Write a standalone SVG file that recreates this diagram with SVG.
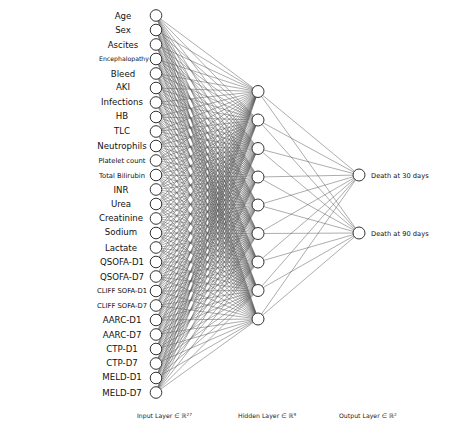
<svg xmlns="http://www.w3.org/2000/svg" width="474" height="432" viewBox="0 0 474 432">
<style>
.bg{fill:#fff}
.edges path{stroke:#5a5a5a;stroke-width:0.5;fill:none}
.node circle{fill:#fff;stroke:#333;stroke-width:1}
.lbl{font-family:"DejaVu Sans",sans-serif;font-size:8.6px;fill:#111;text-anchor:middle}
.sm{font-size:6.8px}
.xs{font-size:6.2px}
.out{font-family:"DejaVu Sans",sans-serif;font-size:6.7px;fill:#111}
.ax{font-family:"DejaVu Sans",sans-serif;font-size:6.2px;fill:#222}
</style>
<rect class="bg" width="474" height="432"/>
<g id="connectors" class="edges">
<path d="M156 15.5L258 91.5"/><path d="M156 15.5L258 120"/><path d="M156 15.5L258 148.5"/><path d="M156 15.5L258 177"/><path d="M156 15.5L258 205"/><path d="M156 15.5L258 233.5"/><path d="M156 15.5L258 262"/><path d="M156 15.5L258 290.5"/><path d="M156 15.5L258 319"/>
<path d="M156 30L258 91.5"/><path d="M156 30L258 120"/><path d="M156 30L258 148.5"/><path d="M156 30L258 177"/><path d="M156 30L258 205"/><path d="M156 30L258 233.5"/><path d="M156 30L258 262"/><path d="M156 30L258 290.5"/><path d="M156 30L258 319"/>
<path d="M156 44.5L258 91.5"/><path d="M156 44.5L258 120"/><path d="M156 44.5L258 148.5"/><path d="M156 44.5L258 177"/><path d="M156 44.5L258 205"/><path d="M156 44.5L258 233.5"/><path d="M156 44.5L258 262"/><path d="M156 44.5L258 290.5"/><path d="M156 44.5L258 319"/>
<path d="M156 59L258 91.5"/><path d="M156 59L258 120"/><path d="M156 59L258 148.5"/><path d="M156 59L258 177"/><path d="M156 59L258 205"/><path d="M156 59L258 233.5"/><path d="M156 59L258 262"/><path d="M156 59L258 290.5"/><path d="M156 59L258 319"/>
<path d="M156 73.5L258 91.5"/><path d="M156 73.5L258 120"/><path d="M156 73.5L258 148.5"/><path d="M156 73.5L258 177"/><path d="M156 73.5L258 205"/><path d="M156 73.5L258 233.5"/><path d="M156 73.5L258 262"/><path d="M156 73.5L258 290.5"/><path d="M156 73.5L258 319"/>
<path d="M156 88L258 91.5"/><path d="M156 88L258 120"/><path d="M156 88L258 148.5"/><path d="M156 88L258 177"/><path d="M156 88L258 205"/><path d="M156 88L258 233.5"/><path d="M156 88L258 262"/><path d="M156 88L258 290.5"/><path d="M156 88L258 319"/>
<path d="M156 102.5L258 91.5"/><path d="M156 102.5L258 120"/><path d="M156 102.5L258 148.5"/><path d="M156 102.5L258 177"/><path d="M156 102.5L258 205"/><path d="M156 102.5L258 233.5"/><path d="M156 102.5L258 262"/><path d="M156 102.5L258 290.5"/><path d="M156 102.5L258 319"/>
<path d="M156 117L258 91.5"/><path d="M156 117L258 120"/><path d="M156 117L258 148.5"/><path d="M156 117L258 177"/><path d="M156 117L258 205"/><path d="M156 117L258 233.5"/><path d="M156 117L258 262"/><path d="M156 117L258 290.5"/><path d="M156 117L258 319"/>
<path d="M156 131.5L258 91.5"/><path d="M156 131.5L258 120"/><path d="M156 131.5L258 148.5"/><path d="M156 131.5L258 177"/><path d="M156 131.5L258 205"/><path d="M156 131.5L258 233.5"/><path d="M156 131.5L258 262"/><path d="M156 131.5L258 290.5"/><path d="M156 131.5L258 319"/>
<path d="M156 146L258 91.5"/><path d="M156 146L258 120"/><path d="M156 146L258 148.5"/><path d="M156 146L258 177"/><path d="M156 146L258 205"/><path d="M156 146L258 233.5"/><path d="M156 146L258 262"/><path d="M156 146L258 290.5"/><path d="M156 146L258 319"/>
<path d="M156 160.5L258 91.5"/><path d="M156 160.5L258 120"/><path d="M156 160.5L258 148.5"/><path d="M156 160.5L258 177"/><path d="M156 160.5L258 205"/><path d="M156 160.5L258 233.5"/><path d="M156 160.5L258 262"/><path d="M156 160.5L258 290.5"/><path d="M156 160.5L258 319"/>
<path d="M156 175L258 91.5"/><path d="M156 175L258 120"/><path d="M156 175L258 148.5"/><path d="M156 175L258 177"/><path d="M156 175L258 205"/><path d="M156 175L258 233.5"/><path d="M156 175L258 262"/><path d="M156 175L258 290.5"/><path d="M156 175L258 319"/>
<path d="M156 189.5L258 91.5"/><path d="M156 189.5L258 120"/><path d="M156 189.5L258 148.5"/><path d="M156 189.5L258 177"/><path d="M156 189.5L258 205"/><path d="M156 189.5L258 233.5"/><path d="M156 189.5L258 262"/><path d="M156 189.5L258 290.5"/><path d="M156 189.5L258 319"/>
<path d="M156 204L258 91.5"/><path d="M156 204L258 120"/><path d="M156 204L258 148.5"/><path d="M156 204L258 177"/><path d="M156 204L258 205"/><path d="M156 204L258 233.5"/><path d="M156 204L258 262"/><path d="M156 204L258 290.5"/><path d="M156 204L258 319"/>
<path d="M156 218.5L258 91.5"/><path d="M156 218.5L258 120"/><path d="M156 218.5L258 148.5"/><path d="M156 218.5L258 177"/><path d="M156 218.5L258 205"/><path d="M156 218.5L258 233.5"/><path d="M156 218.5L258 262"/><path d="M156 218.5L258 290.5"/><path d="M156 218.5L258 319"/>
<path d="M156 233L258 91.5"/><path d="M156 233L258 120"/><path d="M156 233L258 148.5"/><path d="M156 233L258 177"/><path d="M156 233L258 205"/><path d="M156 233L258 233.5"/><path d="M156 233L258 262"/><path d="M156 233L258 290.5"/><path d="M156 233L258 319"/>
<path d="M156 247.5L258 91.5"/><path d="M156 247.5L258 120"/><path d="M156 247.5L258 148.5"/><path d="M156 247.5L258 177"/><path d="M156 247.5L258 205"/><path d="M156 247.5L258 233.5"/><path d="M156 247.5L258 262"/><path d="M156 247.5L258 290.5"/><path d="M156 247.5L258 319"/>
<path d="M156 262L258 91.5"/><path d="M156 262L258 120"/><path d="M156 262L258 148.5"/><path d="M156 262L258 177"/><path d="M156 262L258 205"/><path d="M156 262L258 233.5"/><path d="M156 262L258 262"/><path d="M156 262L258 290.5"/><path d="M156 262L258 319"/>
<path d="M156 276.5L258 91.5"/><path d="M156 276.5L258 120"/><path d="M156 276.5L258 148.5"/><path d="M156 276.5L258 177"/><path d="M156 276.5L258 205"/><path d="M156 276.5L258 233.5"/><path d="M156 276.5L258 262"/><path d="M156 276.5L258 290.5"/><path d="M156 276.5L258 319"/>
<path d="M156 291L258 91.5"/><path d="M156 291L258 120"/><path d="M156 291L258 148.5"/><path d="M156 291L258 177"/><path d="M156 291L258 205"/><path d="M156 291L258 233.5"/><path d="M156 291L258 262"/><path d="M156 291L258 290.5"/><path d="M156 291L258 319"/>
<path d="M156 305.5L258 91.5"/><path d="M156 305.5L258 120"/><path d="M156 305.5L258 148.5"/><path d="M156 305.5L258 177"/><path d="M156 305.5L258 205"/><path d="M156 305.5L258 233.5"/><path d="M156 305.5L258 262"/><path d="M156 305.5L258 290.5"/><path d="M156 305.5L258 319"/>
<path d="M156 320L258 91.5"/><path d="M156 320L258 120"/><path d="M156 320L258 148.5"/><path d="M156 320L258 177"/><path d="M156 320L258 205"/><path d="M156 320L258 233.5"/><path d="M156 320L258 262"/><path d="M156 320L258 290.5"/><path d="M156 320L258 319"/>
<path d="M156 334.5L258 91.5"/><path d="M156 334.5L258 120"/><path d="M156 334.5L258 148.5"/><path d="M156 334.5L258 177"/><path d="M156 334.5L258 205"/><path d="M156 334.5L258 233.5"/><path d="M156 334.5L258 262"/><path d="M156 334.5L258 290.5"/><path d="M156 334.5L258 319"/>
<path d="M156 349L258 91.5"/><path d="M156 349L258 120"/><path d="M156 349L258 148.5"/><path d="M156 349L258 177"/><path d="M156 349L258 205"/><path d="M156 349L258 233.5"/><path d="M156 349L258 262"/><path d="M156 349L258 290.5"/><path d="M156 349L258 319"/>
<path d="M156 363.5L258 91.5"/><path d="M156 363.5L258 120"/><path d="M156 363.5L258 148.5"/><path d="M156 363.5L258 177"/><path d="M156 363.5L258 205"/><path d="M156 363.5L258 233.5"/><path d="M156 363.5L258 262"/><path d="M156 363.5L258 290.5"/><path d="M156 363.5L258 319"/>
<path d="M156 378L258 91.5"/><path d="M156 378L258 120"/><path d="M156 378L258 148.5"/><path d="M156 378L258 177"/><path d="M156 378L258 205"/><path d="M156 378L258 233.5"/><path d="M156 378L258 262"/><path d="M156 378L258 290.5"/><path d="M156 378L258 319"/>
<path d="M156 392.5L258 91.5"/><path d="M156 392.5L258 120"/><path d="M156 392.5L258 148.5"/><path d="M156 392.5L258 177"/><path d="M156 392.5L258 205"/><path d="M156 392.5L258 233.5"/><path d="M156 392.5L258 262"/><path d="M156 392.5L258 290.5"/><path d="M156 392.5L258 319"/>
<path d="M258 91.5L359 175"/><path d="M258 120L359 175"/><path d="M258 148.5L359 175"/><path d="M258 177L359 175"/><path d="M258 205L359 175"/><path d="M258 233.5L359 175"/><path d="M258 262L359 175"/><path d="M258 290.5L359 175"/><path d="M258 319L359 175"/>
<path d="M258 91.5L359 233"/><path d="M258 120L359 233"/><path d="M258 148.5L359 233"/><path d="M258 177L359 233"/><path d="M258 205L359 233"/><path d="M258 233.5L359 233"/><path d="M258 262L359 233"/><path d="M258 290.5L359 233"/><path d="M258 319L359 233"/>
</g>
<g id="input-layer">
<g id="in-age" class="node"><circle cx="156" cy="15.5" r="5.8"/><text class="lbl" x="123" y="18.5">Age</text></g>
<g id="in-sex" class="node"><circle cx="156" cy="30" r="5.8"/><text class="lbl" x="123" y="33">Sex</text></g>
<g id="in-ascites" class="node"><circle cx="156" cy="44.5" r="5.8"/><text class="lbl" x="123" y="47.5">Ascites</text></g>
<g id="in-enceph" class="node"><circle cx="156" cy="59" r="5.8"/><text class="lbl xs" x="124" y="61.2">Encephalopathy</text></g>
<g id="in-bleed" class="node"><circle cx="156" cy="73.5" r="5.8"/><text class="lbl" x="123" y="76.5">Bleed</text></g>
<g id="in-aki" class="node"><circle cx="156" cy="88" r="5.8"/><text class="lbl" x="123" y="90">AKI</text></g>
<g id="in-infections" class="node"><circle cx="156" cy="102.5" r="5.8"/><text class="lbl" x="122" y="105">Infections</text></g>
<g id="in-hb" class="node"><circle cx="156" cy="117" r="5.8"/><text class="lbl" x="122" y="119">HB</text></g>
<g id="in-tlc" class="node"><circle cx="156" cy="131.5" r="5.8"/><text class="lbl" x="122" y="133.5">TLC</text></g>
<g id="in-neutrophils" class="node"><circle cx="156" cy="146" r="5.8"/><text class="lbl" x="122" y="149">Neutrophils</text></g>
<g id="in-platelet" class="node"><circle cx="156" cy="160.5" r="5.8"/><text class="lbl sm" x="122" y="163">Platelet count</text></g>
<g id="in-bilirubin" class="node"><circle cx="156" cy="175" r="5.8"/><text class="lbl sm" x="122" y="177.5">Total Bilirubin</text></g>
<g id="in-inr" class="node"><circle cx="156" cy="189.5" r="5.8"/><text class="lbl" x="121" y="192.5">INR</text></g>
<g id="in-urea" class="node"><circle cx="156" cy="204" r="5.8"/><text class="lbl" x="121" y="206.5">Urea</text></g>
<g id="in-creatinine" class="node"><circle cx="156" cy="218.5" r="5.8"/><text class="lbl" x="121" y="220.5">Creatinine</text></g>
<g id="in-sodium" class="node"><circle cx="156" cy="233" r="5.8"/><text class="lbl" x="121" y="234.5">Sodium</text></g>
<g id="in-lactate" class="node"><circle cx="156" cy="247.5" r="5.8"/><text class="lbl" x="121" y="250.5">Lactate</text></g>
<g id="in-qsofa-d1" class="node"><circle cx="156" cy="262" r="5.8"/><text class="lbl" x="122" y="264.5">QSOFA-D1</text></g>
<g id="in-qsofa-d7" class="node"><circle cx="156" cy="276.5" r="5.8"/><text class="lbl" x="122" y="279.5">QSOFA-D7</text></g>
<g id="in-cliff-d1" class="node"><circle cx="156" cy="291" r="5.8"/><text class="lbl sm" x="122" y="293">CLIFF SOFA-D1</text></g>
<g id="in-cliff-d7" class="node"><circle cx="156" cy="305.5" r="5.8"/><text class="lbl sm" x="122" y="308">CLIFF SOFA-D7</text></g>
<g id="in-aarc-d1" class="node"><circle cx="156" cy="320" r="5.8"/><text class="lbl" x="122" y="322.5">AARC-D1</text></g>
<g id="in-aarc-d7" class="node"><circle cx="156" cy="334.5" r="5.8"/><text class="lbl" x="122" y="337.5">AARC-D7</text></g>
<g id="in-ctp-d1" class="node"><circle cx="156" cy="349" r="5.8"/><text class="lbl" x="122" y="351.5">CTP-D1</text></g>
<g id="in-ctp-d7" class="node"><circle cx="156" cy="363.5" r="5.8"/><text class="lbl" x="122" y="366">CTP-D7</text></g>
<g id="in-meld-d1" class="node"><circle cx="156" cy="378" r="5.8"/><text class="lbl" x="122" y="380">MELD-D1</text></g>
<g id="in-meld-d7" class="node"><circle cx="156" cy="392.5" r="5.8"/><text class="lbl" x="122" y="396">MELD-D7</text></g>
</g>
<g id="hidden-layer">
<g id="h1" class="node"><circle cx="258" cy="91.5" r="6"/></g>
<g id="h2" class="node"><circle cx="258" cy="120" r="6"/></g>
<g id="h3" class="node"><circle cx="258" cy="148.5" r="6"/></g>
<g id="h4" class="node"><circle cx="258" cy="177" r="6"/></g>
<g id="h5" class="node"><circle cx="258" cy="205" r="6"/></g>
<g id="h6" class="node"><circle cx="258" cy="233.5" r="6"/></g>
<g id="h7" class="node"><circle cx="258" cy="262" r="6"/></g>
<g id="h8" class="node"><circle cx="258" cy="290.5" r="6"/></g>
<g id="h9" class="node"><circle cx="258" cy="319" r="6"/></g>
</g>
<g id="output-layer">
<g id="out-30" class="node"><circle cx="359" cy="175" r="6"/><text class="out" x="371" y="177.5">Death at 30 days</text></g>
<g id="out-90" class="node"><circle cx="359" cy="233" r="6"/><text class="out" x="371" y="235.5">Death at 90 days</text></g>
</g>
<g id="axis-labels">
<text class="ax" x="137" y="418">Input Layer ∈ ℝ<tspan font-size="4.2" dy="-2.5">27</tspan></text>
<text class="ax" x="238" y="418">Hidden Layer ∈ ℝ<tspan font-size="4.2" dy="-2.5">9</tspan></text>
<text class="ax" x="339" y="418">Output Layer ∈ ℝ<tspan font-size="4.2" dy="-2.5">2</tspan></text>
</g>
</svg>
